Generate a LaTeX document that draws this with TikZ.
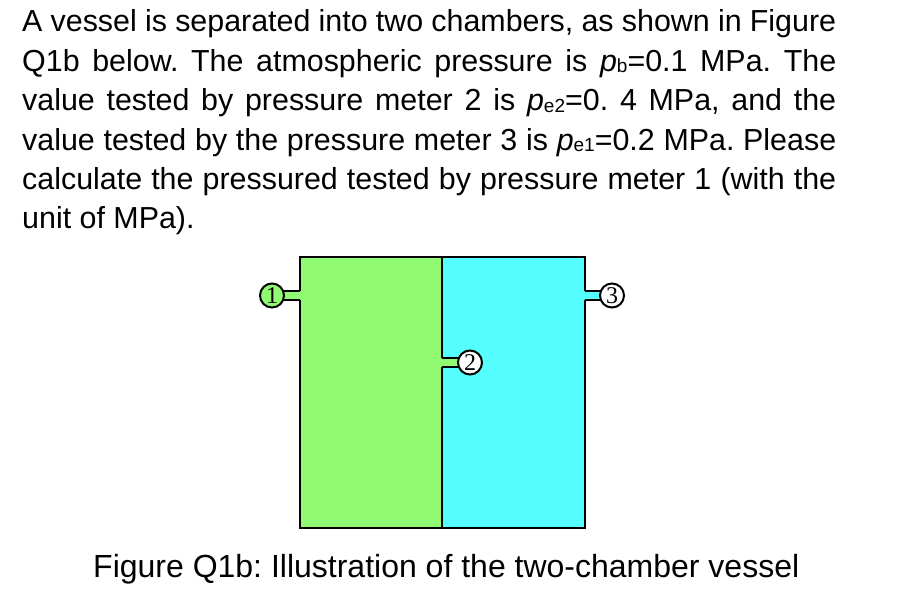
\documentclass[tikz,border=0pt]{standalone}
\usepackage{fontspec}
\setmainfont{Liberation Sans}
\newfontfamily\serifdig{Liberation Serif}
\definecolor{lg}{RGB}{145,250,115}
\definecolor{cy}{RGB}{85,255,255}
\newcommand{\sbx}[1]{\raisebox{-1.5pt}{\fontsize{19}{19}\selectfont #1}}
\newcommand{\jline}[1]{\makebox[814pt][s]{#1}}
\frenchspacing
\begin{document}
\begin{tikzpicture}[x=1pt,y=1pt,
  txtline/.style={anchor=base west,inner sep=0pt,font=\fontsize{30.4}{31.9}\selectfont},
  gauge/.style={circle,draw,line width=2pt,inner sep=0pt,minimum size=24pt,font=\fontsize{24}{24}\selectfont\serifdig},
  wall/.style={line width=2pt,line join=miter}]
\useasboundingbox (0,0) rectangle (898,616);
\node[txtline] (l1) at (22,584) {\jline{A vessel is separated into two chambers, as shown in Figure}};
\node[txtline] (l2) at (22,544.6) {\jline{Q1b below. The atmospheric pressure is \textit{p}\sbx{b}=0.1 MPa. The}};
\node[txtline] (l3) at (22,505.2) {\jline{value tested by pressure meter 2 is \textit{p}\sbx{e2}=0. 4 MPa, and the}};
\node[txtline] (l4) at (22,465.8) {\jline{value tested by the pressure meter 3 is \textit{p}\sbx{e1}=0.2 MPa. Please}};
\node[txtline] (l5) at (22,426.4) {\jline{calculate the pressured tested by pressure meter 1 (with the}};
\node[txtline] (l6) at (22,387) {unit of MPa).};
% chambers
\fill[lg] (300,359) rectangle (442,88);
\fill[cy] (442,359) rectangle (585,88);
% stubs
\fill[lg] (272,325) rectangle (301,316);
\fill[cy] (584,325) rectangle (612,316);
\fill[lg] (441,258) rectangle (470,249);
\draw[wall] (300,316) -- (300,88) -- (585,88) -- (585,316);
\draw[wall] (300,325) -- (300,359) -- (585,359) -- (585,325);
\draw[wall] (442,359) -- (442,258);
\draw[wall] (442,249) -- (442,88);
\draw[line width=2pt] (272,325) -- (300,325) (272,316) -- (300,316);
\draw[line width=2pt] (585,325) -- (612,325) (585,316) -- (612,316);
\draw[line width=2pt] (442,258) -- (470,258) (442,249) -- (470,249);
\node[gauge,fill=lg] (g1) at (272,320.5) {1};
\node[gauge,fill=white] (g3) at (612,320.5) {3};
\node[gauge,fill=white] (g2) at (470,253.5) {2};
\node[anchor=base west,inner sep=0pt,font=\fontsize{32}{32}\selectfont] (cap) at (93,38) {Figure Q1b: Illustration of the two-chamber vessel};
\end{tikzpicture}
\end{document}
